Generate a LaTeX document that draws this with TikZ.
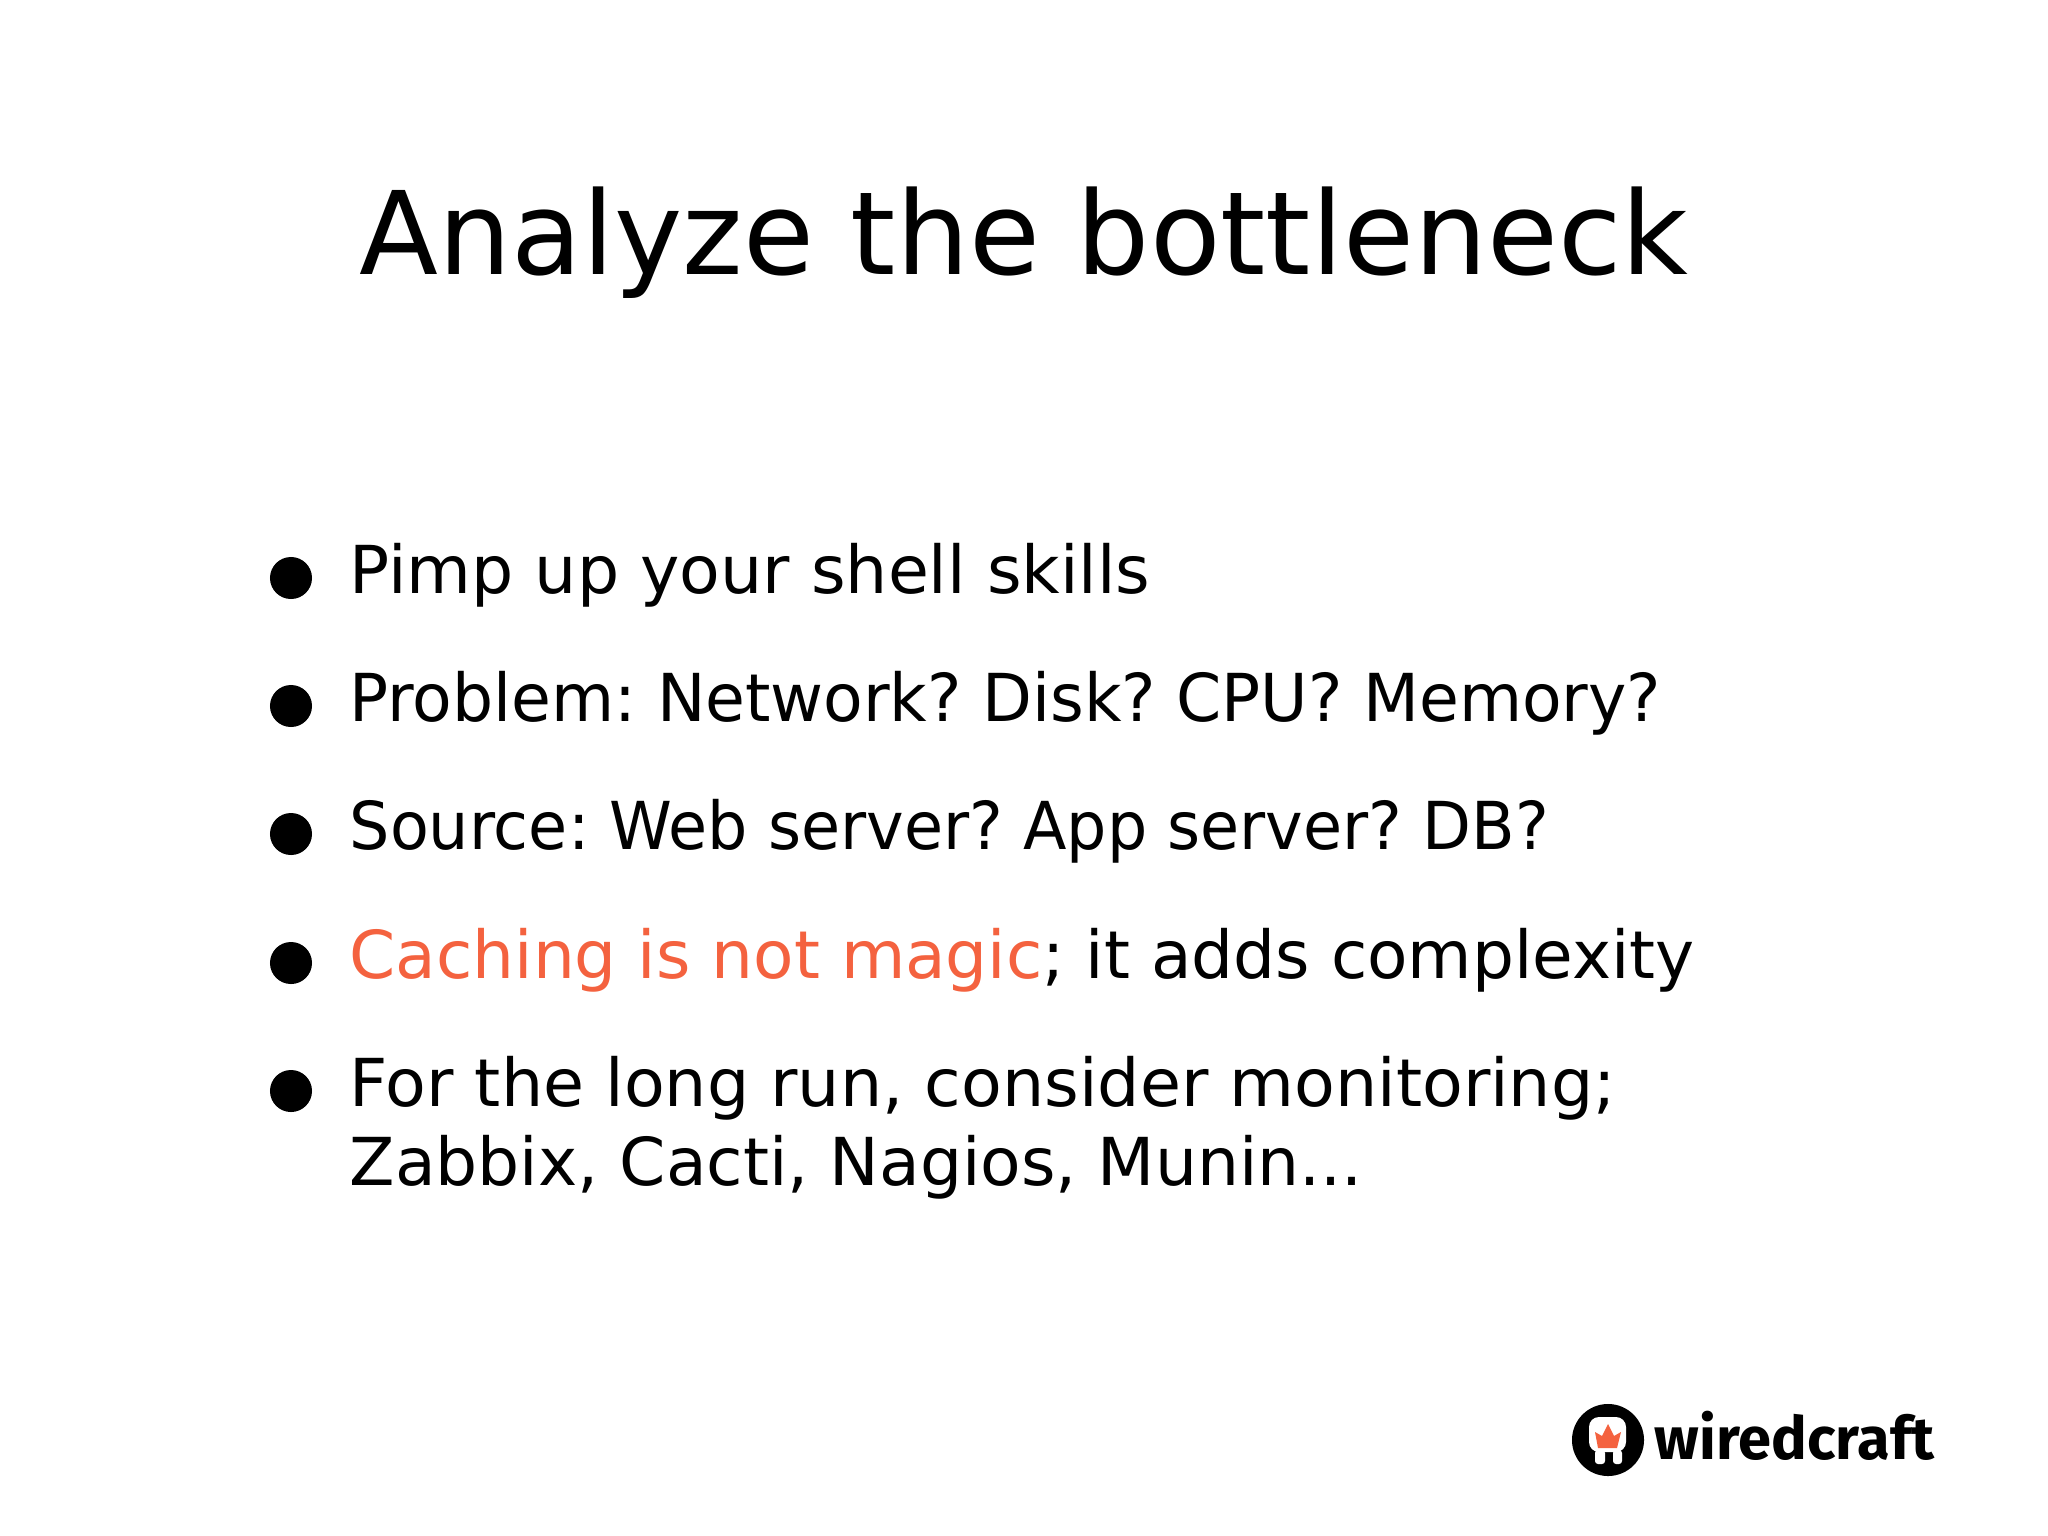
\documentclass[tikz,border=0pt]{standalone}
\usepackage{graphicx}
\usepackage{fontspec}
\setmainfont{DejaVu Sans}
\newfontfamily\brandfont{Fira Sans}
\frenchspacing
\usepackage{tikz}
\usetikzlibrary{positioning}
\definecolor{wiredred}{HTML}{F4623F}
\tikzset{
    bulletdot/.style={circle, fill=black, inner sep=0pt, minimum size=0.42cm},
    itemtext/.style={anchor=base west, inner sep=0pt, font=\fontsize{18.8}{18.8}\selectfont},
}
\begin{document}
\begin{tikzpicture}[x=0.01cm,y=-0.01cm]
    \useasboundingbox (0,0) rectangle (2048,1536);
    \node[anchor=base, inner sep=0pt, font=\fontsize{32.8}{32.8}\selectfont] at (1024,274) (title) {Analyze the bottleneck};

    \node[bulletdot] at (291,578) (b1) {};
    \node[bulletdot] at (291,706) (b2) {};
    \node[bulletdot] at (291,834) (b3) {};
    \node[bulletdot] at (291,963) (b4) {};
    \node[bulletdot] at (291,1091) (b5) {};

    \node[itemtext] at (349,593) (t1) {\scalebox{1.006}[1]{Pimp up your shell skills}};
    \node[itemtext] at (349,721) (t2) {\scalebox{0.98}[1]{Problem: Network? Disk? CPU? Memory?}};
    \node[itemtext] at (349,849) (t3) {\scalebox{0.961}[1]{Source: Web server? App server? DB?}};
    \node[itemtext] at (349,978) (t4) {\textcolor{wiredred}{Caching is not magic}; it adds complexity};
    \node[itemtext] at (349,1106) (t5) {\scalebox{1.008}[1]{For the long run, consider monitoring;}};
    \node[itemtext] at (349,1185) (t6) {\scalebox{1.003}[1]{Zabbix, Cacti, Nagios, Munin...}};

    % logo
    \node[circle, fill=black, inner sep=0pt, minimum size=0.72cm] at (1608,1440) (logo) {};
    \fill[white, rounded corners=0.1cm] (1589,1452) -- (1589,1417) -- (1626,1417) -- (1626,1452) -- cycle;
    \fill[white, rounded corners=0.03cm] (1595,1450) rectangle (1605,1464) (1613,1450) rectangle (1622,1464);
    \fill[wiredred] (1595,1432) -- (1602,1436) -- (1608,1424) -- (1614,1436) -- (1621,1432) -- (1617,1448) -- (1598,1448) -- cycle;
    \node[anchor=base west, inner sep=0pt, font=\brandfont\bfseries\fontsize{16.95}{16.95}\selectfont] at (1654,1459) (brand) {wiredcraft};
\end{tikzpicture}
\end{document}
